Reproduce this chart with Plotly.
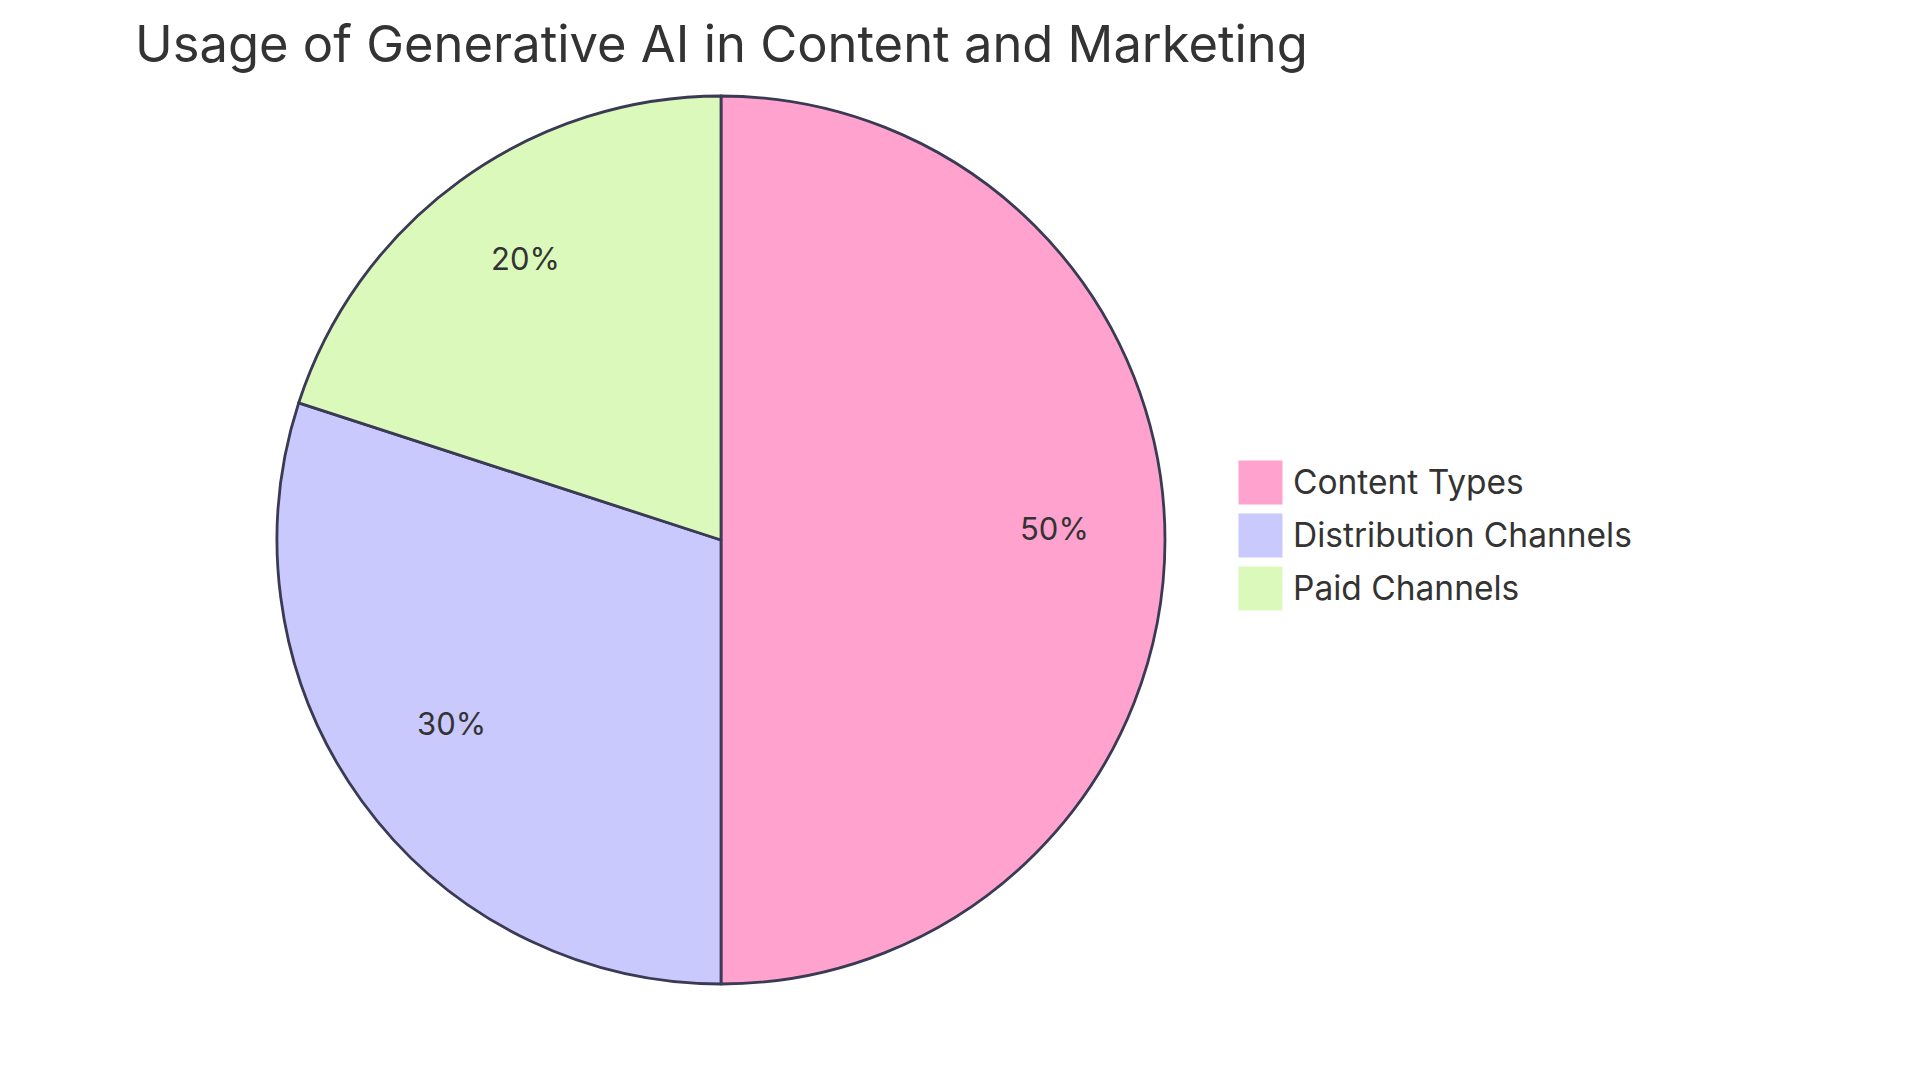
import math
import plotly.graph_objects as go

labels = ["Content Types", "Distribution Channels", "Paid Channels"]
values = [50, 30, 20]
colors = ["#FFA3CE", "#C9C9FE", "#DCF9BC"]
title_text = "Usage of Generative AI in Content and Marketing"

# page body has an 8px margin, so the figure is a bit smaller than the window
OFF = 8
W, H = 1920 - 2 * OFF, 1080 - 2 * OFF
font_name = "Inter, Open Sans, sans-serif"


def px(x):
    return (x - OFF) / W


def py(y):
    return 1 - (y - OFF) / H


cx, cy, r = 721, 540, 444

fig = go.Figure(go.Pie(
    labels=labels,
    values=values,
    sort=False,
    direction="clockwise",
    rotation=0,
    marker=dict(colors=colors, line=dict(color="#3a3a55", width=2.8)),
    textinfo="none",
    domain=dict(x=[px(cx - r), px(cx + r)], y=[py(cy + r), py(cy - r)]),
    showlegend=False,
    hoverinfo="label+percent",
))

# percentage labels at 3/4 of the radius, on each slice's middle angle
total = sum(values)
cum = 0
for v in values:
    ang = 2 * math.pi * (cum + v / 2) / total
    cum += v
    lx = cx + 0.75 * r * math.sin(ang)
    ly = cy - 0.75 * r * math.cos(ang) - 12
    fig.add_annotation(x=px(lx), y=py(ly), xref="paper", yref="paper",
                       text=f"{round(100 * v / total)}%", showarrow=False,
                       xanchor="center", yanchor="middle",
                       font=dict(family=font_name, size=31, color="#333333"))

# legend drawn by hand so the swatches can be as big as in the original
for i, (lab, col) in enumerate(zip(labels, colors)):
    top = 460 + i * 53
    fig.add_shape(type="rect", xref="paper", yref="paper",
                  x0=px(1238), x1=px(1283), y0=py(top + 45), y1=py(top),
                  fillcolor=col, line=dict(color="#ffffff", width=1))
    fig.add_annotation(x=px(1291), y=py(top + 22), xref="paper", yref="paper",
                       text=lab, showarrow=False, xanchor="left", yanchor="middle",
                       font=dict(family=font_name, size=33.5, color="#333333"))

fig.update_layout(
    width=W, height=H,
    margin=dict(l=0, r=0, t=0, b=0),
    paper_bgcolor="white",
    plot_bgcolor="white",
    title=dict(text=title_text, x=px(135), xanchor="left", xref="paper",
               y=py(44), yanchor="middle",
               font=dict(family=font_name, size=50.7, color="#333333")),
)

fig.write_html("out.html")
